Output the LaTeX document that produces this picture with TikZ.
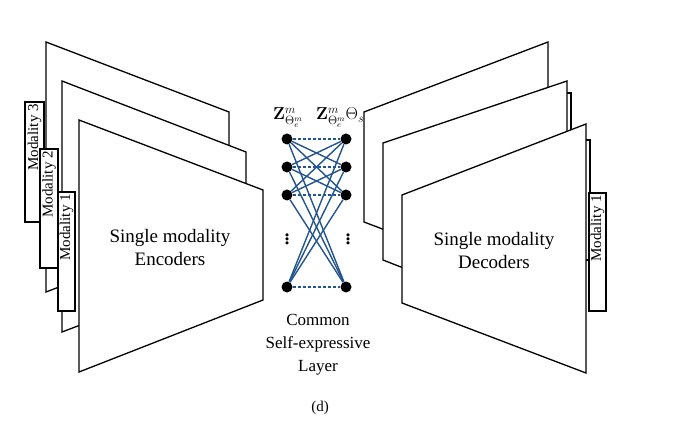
\documentclass[tikz,border=0pt]{standalone}
\usepackage{amsmath}
\usepackage[no-math]{fontspec}
\setmainfont{Liberation Serif}
\begin{document}
\definecolor{edgeblue}{RGB}{35,85,140}
\begin{tikzpicture}[x=1pt,y=-1pt,
  panel/.style={draw=black,fill=white,line width=1.3pt,line join=miter},
  modbox/.style={draw=black,fill=white,line width=2.6pt},
  modtext/.style={font=\fontsize{15}{15}\selectfont,rotate=90,anchor=east,inner sep=1pt},
  unit/.style={circle,fill=black,inner sep=0pt,minimum size=11pt},
  link/.style={draw=edgeblue,line width=1.4pt},
  selflink/.style={draw=edgeblue,line width=1.4pt,dash pattern=on 3pt off 2pt},
  big/.style={font=\fontsize{19}{23}\selectfont,align=center},
  zlab/.style={font=\fontsize{17}{17}\selectfont,inner sep=0pt}]
\useasboundingbox (0,0) rectangle (690,446);

% encoders
\draw[panel] (46,42) -- (229,112) -- (229,222) -- (46,292) -- cycle;
\draw[panel] (62,81) -- (246,152) -- (246,262) -- (62,332) -- cycle;
\draw[panel] (79,120) -- (263,190) -- (263,300) -- (79,372) -- cycle;
\draw[modbox] (25,102) rectangle (44,222);
\node[modtext] (m3) at (34.5,103) {Modality 3};
\draw[modbox] (40,149) rectangle (58,268);
\node[modtext] (m2) at (49,150) {Modality 2};
\draw[modbox] (58,192) rectangle (75,311);
\node[modtext] (m1) at (66.5,193) {Modality 1};
\node[big] (enc) at (170,248) {Single modality\\Encoders};

% decoders
\draw[panel] (364,112) -- (548,42) -- (548,292) -- (364,222) -- cycle;
\draw[modbox] (553,93) rectangle (571,213);
\draw[panel] (383,143) -- (567,81) -- (567,332) -- (383,260) -- cycle;
\draw[modbox] (572,140) rectangle (590,260);
\draw[panel] (402,195) -- (586,124) -- (586,373) -- (402,303) -- cycle;
\draw[modbox] (589,193) rectangle (606,311);
\node[modtext] (d1) at (597.5,194) {Modality 1};
\node[big] (dec) at (494,251) {Single modality\\Decoders};

% self-expressive layer
\node[zlab,anchor=base] (zl) at (288,120) {$\mathbf{Z}^m_{\Theta^m_e}$};
\node[zlab,anchor=base west] (zr) at (316,120) {$\mathbf{Z}^m_{\Theta^m_e}\Theta_s$};
\foreach \i/\y in {1/139,2/167,3/195,4/287}{
  \node[unit] (l\i) at (287,\y) {};
  \node[unit] (r\i) at (346,\y) {};
}
\foreach \i in {1,2,3,4}{
  \foreach \j in {1,2,3,4}{
    \ifnum\i=\j
      \draw[selflink] (l\i) -- (r\j);
    \else
      \draw[link] (l\i) -- (r\j);
    \fi
  }
}
\node[font=\fontsize{26}{26}\selectfont] (vl) at (287,236) {$\boldsymbol{\vdots}$};
\node[font=\fontsize{26}{26}\selectfont] (vr) at (348,236) {$\boldsymbol{\vdots}$};
\node[font=\fontsize{17}{23}\selectfont,align=center] (cl) at (318,345) {Common\\Self-expressive\\Layer};
\node[font=\fontsize{15}{15}\selectfont] (cap) at (320,408) {(d)};
\end{tikzpicture}
\end{document}
